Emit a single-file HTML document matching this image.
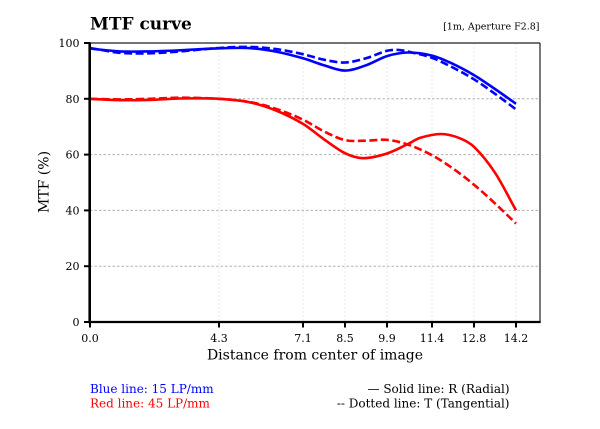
<!DOCTYPE html>
<html>
<head>
<meta charset="utf-8">
<style>
html,body{margin:0;padding:0;background:#fff;}
svg{display:block;}
text{font-family:"DejaVu Serif","Liberation Serif",serif;}
</style>
</head>
<body>
<svg width="600" height="429" viewBox="0 0 600 429" xmlns="http://www.w3.org/2000/svg">
<rect x="0" y="0" width="600" height="429" fill="#fff"/>

<!-- title -->
<text x="90" y="29.3" font-size="17" font-weight="bold" fill="#000">MTF curve</text>
<text x="539.5" y="29.3" font-size="9.5" text-anchor="end" fill="#000">[1m, Aperture F2.8]</text>

<!-- vertical faint grid -->
<g stroke="#e8e8e8" stroke-width="1" stroke-dasharray="2 2">
<line x1="219" y1="43" x2="219" y2="322"/>
<line x1="303" y1="43" x2="303" y2="322"/>
<line x1="345" y1="43" x2="345" y2="322"/>
<line x1="387" y1="43" x2="387" y2="322"/>
<line x1="432" y1="43" x2="432" y2="322"/>
<line x1="474" y1="43" x2="474" y2="322"/>
<line x1="516" y1="43" x2="516" y2="322"/>
</g>

<!-- horizontal grid -->
<g stroke="#b0b0b0" stroke-width="1" stroke-dasharray="2.5 2">
<line x1="90" y1="98.8" x2="540" y2="98.8"/>
<line x1="90" y1="154.6" x2="540" y2="154.6"/>
<line x1="90" y1="210.4" x2="540" y2="210.4"/>
<line x1="90" y1="266.2" x2="540" y2="266.2"/>
</g>

<!-- curves -->
<g fill="none" stroke-width="2.6" stroke-linejoin="round">
<path class="sm" stroke="#0000ff" d="M90 48.6 L120 51.4 L150 51.4 L180 50.3 L219 48.3 L249 48.1 L276 51.6 L303 58.3 L324 65.3 L345 70.6 L366 65.3 L387 56.1 L408 52.5 L432 55.6 L453 63.9 L474 75.1 L495 89.0 L516 103.8"/>
<path class="sm" stroke="#0000ff" stroke-dasharray="8 3.5" d="M90 48.0 L120 52.8 L150 53.3 L180 51.4 L219 48.0 L249 46.9 L276 49.1 L303 54.2 L324 59.7 L345 62.5 L366 58.3 L387 50.8 L399 50.0 L414 53.0 L432 57.8 L453 67.6 L474 79.3 L495 93.8 L516 109.4"/>
<path class="sm" stroke="#ff0000" d="M90 98.8 L120 100.2 L150 99.9 L180 98.5 L219 98.8 L249 102.2 L276 110.5 L303 123.9 L324 139.3 L345 153.2 L363 158.2 L387 153.5 L408 144.0 L420 137.9 L441 134.0 L459 137.9 L474 146.8 L495 172.7 L516 210.4"/>
<path class="sm" stroke="#ff0000" stroke-dasharray="8 3.5" d="M90 98.8 L120 99.4 L150 98.8 L180 97.7 L219 98.8 L249 101.9 L276 108.8 L303 119.7 L324 131.4 L345 140.1 L366 140.7 L387 139.8 L408 144.6 L432 155.2 L453 168.6 L474 184.7 L495 203.4 L516 223.5"/>
</g>

<!-- spines -->
<line x1="90" y1="43" x2="540" y2="43" stroke="#222" stroke-width="1.2"/>
<line x1="540" y1="43" x2="540" y2="323" stroke="#222" stroke-width="1.2"/>
<line x1="89.7" y1="42.4" x2="89.7" y2="323.2" stroke="#000" stroke-width="2.6"/>
<line x1="88.4" y1="322" x2="540.6" y2="322" stroke="#000" stroke-width="2.2"/>

<!-- y ticks -->
<g stroke="#000" stroke-width="2">
<line x1="84" y1="43" x2="90" y2="43"/>
<line x1="84" y1="98.8" x2="90" y2="98.8"/>
<line x1="84" y1="154.6" x2="90" y2="154.6"/>
<line x1="84" y1="210.4" x2="90" y2="210.4"/>
<line x1="84" y1="266.2" x2="90" y2="266.2"/>
<line x1="84" y1="322" x2="90" y2="322"/>
</g>
<!-- x ticks -->
<g stroke="#000" stroke-width="2">
<line x1="90" y1="322" x2="90" y2="327.5"/>
<line x1="219" y1="322" x2="219" y2="327.5"/>
<line x1="303" y1="322" x2="303" y2="327.5"/>
<line x1="345" y1="322" x2="345" y2="327.5"/>
<line x1="387" y1="322" x2="387" y2="327.5"/>
<line x1="432" y1="322" x2="432" y2="327.5"/>
<line x1="474" y1="322" x2="474" y2="327.5"/>
<line x1="516" y1="322" x2="516" y2="327.5"/>
</g>

<!-- y tick labels -->
<g font-size="11" text-anchor="end" fill="#000">
<text x="79.5" y="47">100</text>
<text x="79.5" y="102.8">80</text>
<text x="79.5" y="158.6">60</text>
<text x="79.5" y="214.4">40</text>
<text x="79.5" y="270.2">20</text>
<text x="79.5" y="326">0</text>
</g>
<!-- x tick labels -->
<g font-size="11" text-anchor="middle" fill="#000">
<text x="90" y="341.8">0.0</text>
<text x="219" y="341.8">4.3</text>
<text x="303" y="341.8">7.1</text>
<text x="345" y="341.8">8.5</text>
<text x="387" y="341.8">9.9</text>
<text x="432" y="341.8">11.4</text>
<text x="474" y="341.8">12.8</text>
<text x="516" y="341.8">14.2</text>
</g>

<!-- axis labels -->
<text x="315" y="359.5" font-size="14" text-anchor="middle" fill="#000">Distance from center of image</text>
<text transform="translate(48.6,182) rotate(-90)" font-size="14" text-anchor="middle" fill="#000">MTF (%)</text>

<!-- legend texts -->
<text x="90" y="393" font-size="12" fill="#0000ff">Blue line: 15 LP/mm</text>
<text x="90" y="407.3" font-size="12" fill="#ff0000">Red line: 45 LP/mm</text>
<text x="509.5" y="393" font-size="12" text-anchor="end" fill="#000">— Solid line: R (Radial)</text>
<text x="509.5" y="407.3" font-size="12" text-anchor="end" fill="#000">-- Dotted line: T (Tangential)</text>
</svg>
<script>
(function(){
  var paths=document.querySelectorAll('path.sm');
  for(var k=0;k<paths.length;k++){
    var p=paths[k];
    var nums=p.getAttribute('d').match(/-?[\d.]+/g).map(Number);
    var pts=[];
    for(var i=0;i<nums.length;i+=2)pts.push([nums[i],nums[i+1]]);
    var n=pts.length,m=[];
    for(var i=0;i<n;i++){
      var a=pts[Math.max(i-1,0)],b=pts[Math.min(i+1,n-1)];
      m.push((b[1]-a[1])/(b[0]-a[0]));
    }
    var d='M'+pts[0][0]+' '+pts[0][1];
    for(var i=0;i<n-1;i++){
      var p1=pts[i],p2=pts[i+1],dx=(p2[0]-p1[0])/3;
      d+=' C'+(p1[0]+dx).toFixed(2)+' '+(p1[1]+m[i]*dx).toFixed(2)+' '+(p2[0]-dx).toFixed(2)+' '+(p2[1]-m[i+1]*dx).toFixed(2)+' '+p2[0]+' '+p2[1];
    }
    p.setAttribute('d',d);
  }
})();
</script>
</body>
</html>
